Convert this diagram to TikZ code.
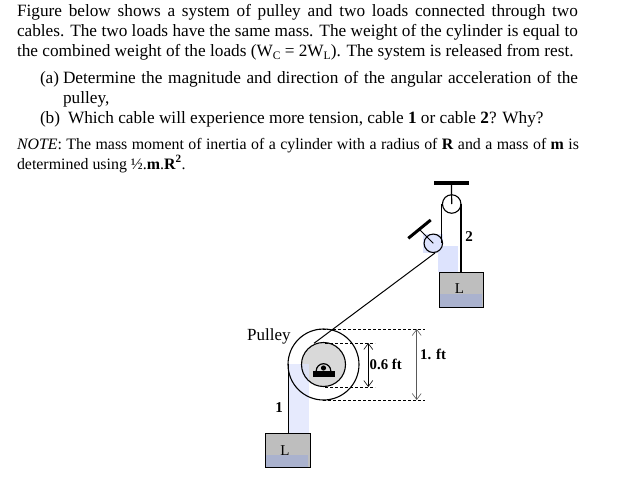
\documentclass[tikz,border=0pt]{standalone}
\usepackage{fontspec}
\setmainfont{Liberation Serif}
\usetikzlibrary{arrows.meta}
\newcommand{\subs}[1]{\raisebox{-2.5pt}{\fontsize{11.5}{12}\selectfont #1}}
\definecolor{ltblue}{HTML}{DDE3FD}
\definecolor{loadgray}{HTML}{BEBEBE}
\definecolor{loadblue}{HTML}{AAB2CE}
\definecolor{diskgray}{HTML}{D9D9D9}
\tikzset{
  txt/.style={anchor=base west,inner sep=0pt,outer sep=0pt,font=\fontsize{17.25}{19}\selectfont},
  note/.style={anchor=base west,inner sep=0pt,outer sep=0pt,font=\fontsize{15.9}{17}\selectfont},
  lab/.style={inner sep=0pt,font=\fontsize{15}{17}\selectfont},
  blab/.style={inner sep=0pt,font=\fontsize{15}{17}\selectfont\bfseries},
  dimlab/.style={inner sep=0pt,anchor=west,font=\fontsize{14.8}{16}\selectfont\bfseries},
  ln/.style={draw=black,line width=1.2pt},
  thin line/.style={draw=black,line width=1pt},
  bar/.style={draw=none,fill=black},
  load/.style={draw=black,line width=1.1pt},
  wheel/.style={draw=black,line width=1.1pt,circle,inner sep=0pt},
  dash line/.style={draw=black,line width=0.9pt,dash pattern=on 3pt off 2pt},
  dim/.style={line width=0.9pt,{Straight Barb[length=6pt,width=9pt,line width=0.6pt]}-{Straight Barb[length=6pt,width=9pt,line width=0.6pt]}},
}
\begin{document}
\begin{tikzpicture}[x=1pt,y=-1pt]
\useasboundingbox (0,0) rectangle (621,492);
% text
\node[txt] (t1) at (17,16.7) {\hbox to 561pt{Figure below shows a system of pulley and two loads connected through two}};
\node[txt] (t2) at (17,36.7) {\hbox to 561pt{cables. The two loads have the same mass. The weight of the cylinder is equal to}};
\node[txt] (t3) at (17,56.7) {the combined weight of the loads (W\subs{C} = 2W\subs{L}). The system is released from rest.};
\node[txt] (ta) at (40,83.7) {(a)};
\node[txt] (ta1) at (63,83.7) {\hbox to 515pt{Determine the magnitude and direction of the angular acceleration of the}};
\node[txt] (ta2) at (63,103.7) {pulley,};
\node[txt] (tb) at (40,123.7) {(b)};
\node[txt] (tb1) at (68,123.7) {Which cable will experience more tension, cable \textbf{1} or cable \textbf{2}? Why?};
\node[note] (n1) at (17,149.5) {\hbox to 562pt{\textit{NOTE}: The mass moment of inertia of a cylinder with a radius of \textbf{R} and a mass of \textbf{m} is}};
\node[note] (n2) at (17,169) {determined using ½.\textbf{m}.\textbf{R\textsuperscript{2}}.};
% main pulley
\coordinate (c) at (323.5,364.5);
\fill[diskgray] (c) circle (22);
\fill[ltblue,opacity=.75] (289,363.5) rectangle (309.3,433);
\node[wheel,minimum size=71pt] (outer) at (c) {};
\node[wheel,minimum size=44pt] (inner) at (c) {};
\draw[ln] (330.8,371) arc (0:-180:7.3);
\node[bar,minimum width=22pt,minimum height=5.5pt,inner sep=0pt] (base) at (323.8,373.8) {};
\fill[black] (323.5,368) circle (2.6);
% load 1
\fill[loadgray] (265.7,433.3) rectangle (310.7,468);
\fill[loadblue] (265.7,455) rectangle (308,468);
\node[load,minimum width=45pt,minimum height=34.5pt,inner sep=0pt] (load1) at (288.2,450.6) {};
\node[lab] (l1) at (285,450.5) {L};
\coordinate (k1) at (288.7,364);
\draw[ln] (k1) -- (k1 |- load1.north);
% top pulley
\node[bar,minimum width=35pt,minimum height=3.6pt,inner sep=0pt] (topbar) at (451.5,182.8) {};
\fill[ltblue] (438.3,246) rectangle (458.3,272);
\fill[ltblue] (423,234) rectangle (443,252.7);
\node[wheel,minimum size=18.5pt,fill=white] (top) at (451.7,204) {};
\draw[ln] (topbar.south) -- (top.center);
\node[wheel,minimum size=18.5pt] (small) at (433.3,243.3) {};
\coordinate (arm) at (419.3,229.3);
\draw[thin line] (small.center) -- (arm);
\coordinate (ba) at (408.3,238.3);
\coordinate (bb) at (430.7,220);
\draw[line width=3pt] (ba) -- (bb);
% load 2
\fill[loadgray] (439.7,272.7) rectangle (483.7,307.3);
\fill[loadblue] (439.7,294.3) rectangle (481.7,307.3);
\node[load,minimum width=44pt,minimum height=34.5pt,inner sep=0pt] (load2) at (461.7,290) {};
\node[lab] (l2) at (459.5,289) {L};
% cables
\draw[thin line] (top.west) -- (top.west |- small.east);
\coordinate (k2) at (460.9,204);
\draw[ln] (k2) -- (k2 |- load2.north);
\coordinate (t0) at (314,343.3);
\coordinate (t9) at (435,253);
\draw[thin line] (t0) -- (t9);
% dimensions
\coordinate (o1) at (318,329);
\coordinate (o2) at (425,329);
\coordinate (o3) at (323,400);
\coordinate (o4) at (425,400);
\coordinate (i1) at (325,343);
\coordinate (i2) at (375,343);
\coordinate (i3) at (325,387);
\coordinate (i4) at (375,387);
\draw[dash line] (o1) -- (o2);
\draw[dash line] (o3) -- (o4);
\draw[dash line] (i1) -- (i2);
\draw[dash line] (i3) -- (i4);
\coordinate (d1) at (368.3,343);
\coordinate (d2) at (368.3,387);
\coordinate (e1) at (416.7,329);
\coordinate (e2) at (416.7,400);
\draw[dim] (d1) -- (d2);
\draw[dim,draw=black!65] (e1) -- (e2);
% labels
\node[dimlab] (d06) at (369.5,364.5) {0.6 ft};
\node[dimlab] (d10) at (420,354) {1. ft};
\node[inner sep=0pt,anchor=west,font=\fontsize{17}{19}\selectfont] (pul) at (247,336.5) {Pulley};
\node[blab] (c1) at (279,408) {1};
\node[blab] (c2) at (469,236.5) {2};
\end{tikzpicture}
\end{document}
